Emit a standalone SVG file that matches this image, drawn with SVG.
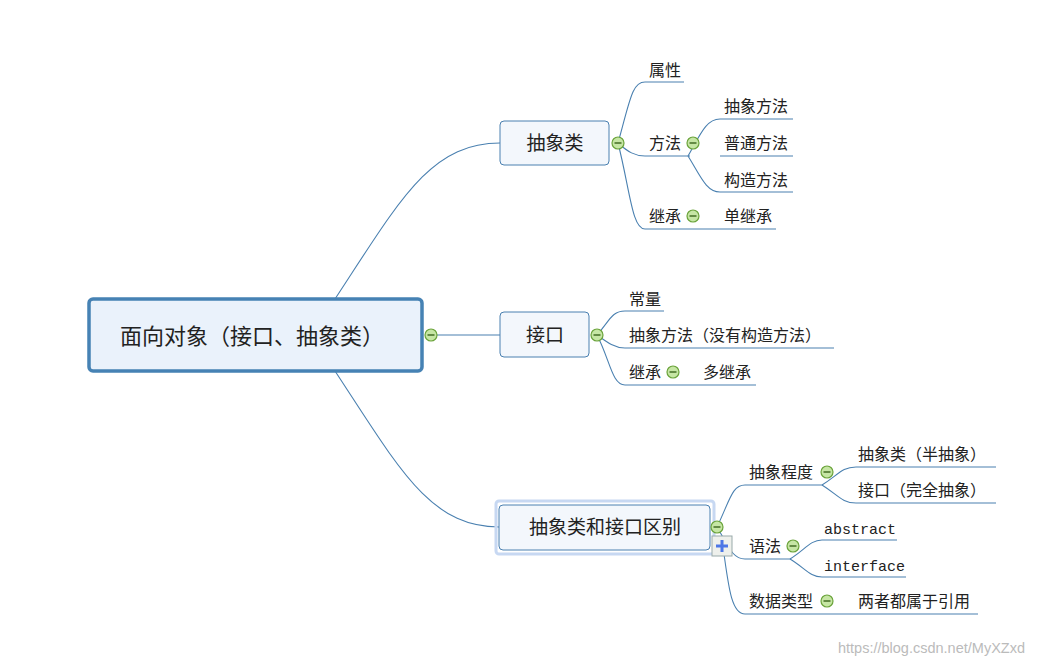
<svg xmlns="http://www.w3.org/2000/svg" width="1047" height="664" viewBox="0 0 1047 664">
<style>
text{font-family:"Noto Sans CJK SC","Liberation Sans",sans-serif;font-size:16px;fill:#222}
.c{fill:none;stroke:#4a80b0;stroke-width:1.1}
.box{fill:#f3f7fc;stroke:#4a80b0;stroke-width:1}
.bt{font-size:19px}
.mono{font-family:"Liberation Mono",monospace;font-size:15px}
</style>
<defs>
<g id="minus"><circle r="6" fill="#c6e6a4" stroke="#6aa33a" stroke-width="1.2"/><line x1="-3.5" x2="3.5" stroke="#2f5a10" stroke-width="1.3"/></g>
</defs>
<rect width="1047" height="664" fill="#fff"/>
<g id="connectors">
<path class="c" d="M335,299 C400,200 430,143 500,143"/>
<path class="c" d="M437,335 H500"/>
<path class="c" d="M335,371 C400,470 430,527 499,527"/>
<path class="c" d="M618,143 C630,100 632,82 645,82 H684"/>
<path class="c" d="M618,143 C628,152 635,156 645,156 H690"/>
<path class="c" d="M618,143 C630,190 632,229 645,229 H776"/>
<path class="c" d="M688,156 C700,135 706,119 720,119 H793"/>
<path class="c" d="M720,156 H793"/>
<path class="c" d="M688,156 C700,175 706,192 720,192 H793"/>
<path class="c" d="M597,335 C610,320 612,311 625,311 H664"/>
<path class="c" d="M597,335 C608,343 615,348 625,348 H834"/>
<path class="c" d="M597,335 C610,360 612,385 625,385 H756"/>
<path class="c" d="M717,527 C730,500 732,485 745,485 H822"/>
<path class="c" d="M822,485 C838,475 842,467 856,467 H996"/>
<path class="c" d="M822,485 C838,495 842,503 856,503 H996"/>
<path class="c" d="M717,527 C728,545 732,559 745,559 H790"/>
<path class="c" d="M790,559 C805,550 810,540 822,540 H897"/>
<path class="c" d="M790,559 C805,568 810,577 822,577 H906"/>
<path class="c" d="M722,540 C728,580 730,614 745,614 H978"/>
</g>
<g id="root">
<rect x="89" y="299" width="333" height="72" rx="4" fill="#eaf2fb" stroke="#4682b4" stroke-width="3.5"/>
<text x="252" y="344" text-anchor="middle" style="font-size:22px">面向对象（接口、抽象类）</text>
<use href="#minus" x="431" y="335"/>
</g>
<g id="n-abstract">
<rect class="box" x="500" y="121" width="109" height="44" rx="4"/>
<text class="bt" x="555" y="150" text-anchor="middle">抽象类</text>
<use href="#minus" x="618" y="143"/>
</g>
<g id="n-interface">
<rect class="box" x="500" y="312" width="89" height="45" rx="4"/>
<text class="bt" x="545" y="342" text-anchor="middle">接口</text>
<use href="#minus" x="597" y="335"/>
</g>
<g id="n-diff">
<rect x="496" y="501" width="218" height="53" rx="3" fill="none" stroke="#c7d8f2" stroke-width="3"/>
<rect class="box" x="499" y="505" width="211" height="45" rx="4"/>
<text class="bt" x="605" y="534" text-anchor="middle">抽象类和接口区别</text>
<use href="#minus" x="717" y="527"/>
<rect x="712" y="536" width="20" height="20" fill="#eef0ec" stroke="#9aa" stroke-width="1"/>
<path d="M722,540 V552 M716,546 H728" stroke="#4d77e6" stroke-width="3"/>
</g>
<g id="leaves">
<text x="649" y="76">属性</text>
<text x="649" y="149">方法</text><use href="#minus" x="693" y="143"/>
<text x="649" y="222">继承</text><use href="#minus" x="693" y="216"/>
<text x="724" y="112">抽象方法</text>
<text x="724" y="149">普通方法</text>
<text x="724" y="186">构造方法</text>
<text x="724" y="222">单继承</text>
<text x="629" y="305">常量</text>
<text x="629" y="341">抽象方法（没有构造方法）</text>
<text x="629" y="378">继承</text><use href="#minus" x="673" y="372"/>
<text x="703" y="378">多继承</text>
<text x="749" y="478">抽象程度</text><use href="#minus" x="827" y="472"/>
<text x="858" y="460">抽象类（半抽象）</text>
<text x="858" y="496">接口（完全抽象）</text>
<text x="749" y="552">语法</text><use href="#minus" x="793" y="546"/>
<text class="mono" x="824" y="534">abstract</text>
<text class="mono" x="824" y="571">interface</text>
<text x="749" y="607">数据类型</text><use href="#minus" x="827" y="601"/>
<text x="858" y="607">两者都属于引用</text>
</g>
<text x="838" y="653" style="font-family:'Liberation Sans',sans-serif;font-size:14.5px;fill:#bbb">https://blog.csdn.net/MyXZxd</text>
</svg>
